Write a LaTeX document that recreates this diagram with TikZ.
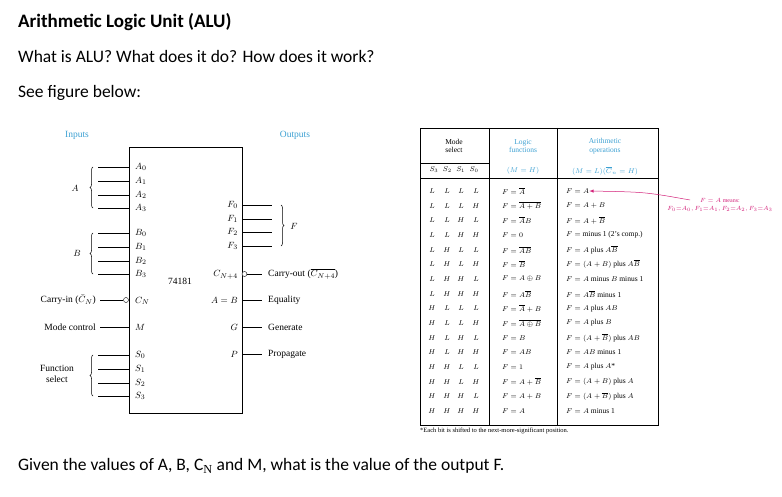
\documentclass[tikz,border=0pt]{standalone}
\usepackage{fontspec}
\setmainfont{Liberation Serif}
\newfontfamily\calfnt{Carlito}
\usetikzlibrary{decorations.pathreplacing}
\definecolor{cyanhd}{RGB}{60,160,210}
\definecolor{mag}{RGB}{210,30,120}
\begin{document}
\begin{tikzpicture}[x=1pt,y=-1pt,
  body/.style={font=\calfnt\fontsize{17.5}{19}\selectfont,anchor=west,inner sep=0},
  lab/.style={font=\fontsize{9.5}{11}\selectfont,inner sep=0},
  tab/.style={font=\fontsize{7.5}{8.5}\selectfont,inner sep=0},
  pin/.style={line width=0.6pt},
  brc/.style={decorate,decoration={brace,amplitude=3pt},line width=0.5pt},
  bub/.style={circle,draw,inner sep=0,minimum size=5pt,fill=white}]
\useasboundingbox (0,0) rectangle (782,497);
\node[body,font=\calfnt\bfseries\fontsize{19}{21}\selectfont] (t) at (18,22) {Arithmetic Logic Unit (ALU)};
\node[body] (q) at (18,56) {What is ALU? What does it do? How does it work?};
\node[body] (s) at (18,93) {See figure below:};
\node[body] (g) at (18,466) {Given the values of A, B, C$_\mathrm{N}$ and M, what is the value of the output F.};
% chip
\node[draw,line width=0.6pt,minimum width=113pt,minimum height=266pt,inner sep=0] (chip) at (185.5,280) {};
\node[lab] (num) at (180,281) {74181};
\node[lab,text=cyanhd] (inp) at (77,135) {Inputs};
\node[lab,text=cyanhd] (outp) at (295,135) {Outputs};
\foreach \n/\y in {A_0/167,A_1/181,A_2/195,A_3/208,B_0/233,B_1/247,B_2/261,B_3/274,S_0/355,S_1/369,S_2/383,S_3/396}{
  \coordinate (p\y) at (129,\y);
  \draw[pin] (98,\y) -- (p\y);
  \node[lab,anchor=west] (l\y) at (135,\y) {$\n$};
}
\draw[brc] (93,208) -- (93,167);
\node[lab] (la) at (75,188) {$A$};
\draw[brc] (93,274) -- (93,233);
\node[lab] (lb) at (77,253) {$B$};
\draw[brc] (93,396) -- (93,355);
\node[lab,align=center] (fs) at (57,374) {Function\\select};
\node[bub] (cb) at (126,300) {};
\draw[pin] (100,300) -- (cb);
\node[lab,anchor=east] (ci) at (96,300) {Carry-in ($\bar{C}_N$)};
\node[lab,anchor=west] (cn) at (135,301) {$C_N$};
\draw[pin] (100,327) -- (129,327);
\node[lab,anchor=east] (mc) at (96,327) {Mode control};
\node[lab,anchor=west] (mm) at (135,327) {$M$};
\foreach \n/\y in {F_0/205,F_1/219,F_2/232,F_3/246}{
  \draw[pin] (242,\y) -- (272,\y);
  \node[lab,anchor=east] (r\y) at (238,\y) {$\n$};
}
\draw[brc] (281,205) -- (281,246);
\node[lab] (lf) at (294,226) {$F$};
\node[bub] (ob) at (244.5,274) {};
\draw[pin] (ob) -- (262,274);
\node[lab,anchor=east] (cn4) at (238,275) {$C_{N+4}$};
\node[lab,anchor=west] (co) at (268,274) {Carry-out ($\overline{C_{N+4}}$)};
\foreach \a/\b/\y in {A=B/Equality/300,G/Generate/327,P/Propagate/354}{
  \draw[pin] (242,\y) -- (262,\y);
  \node[lab,anchor=east] (x\y) at (238,\y) {$\a$};
  \node[lab,anchor=west] (y\y) at (268,\y) {\b};
}
% table
\draw[line width=0.6pt] (420,128) rectangle (658,425);
\draw[line width=0.5pt] (489,128) -- (489,425) (557,128) -- (557,425) (420,178) -- (658,178) (420,163) -- (489,163);
\node[tab,align=center] (ms) at (454,146) {Mode\\select};
\node[tab,align=center,text=cyanhd] (lfn) at (523,146) {Logic\\functions};
\node[tab,align=center,text=cyanhd] (aop) at (605,146) {Arithmetic\\operations};
\node[tab] (ss) at (454,170) {$S_3\;\;S_2\;\;S_1\;\;S_0$};
\node[tab,text=cyanhd] (mh) at (523,171) {$(M=H)$};
\node[tab,text=cyanhd] (ml) at (605,171) {$(M=L)(\overline{C}_n=H)$};
\foreach [count=\i] \a/\b/\c/\d/\lf/\ar in {
L/L/L/L/{$F=\overline{A}$}/{$F=A$},
L/L/L/H/{$F=\overline{A+B}$}/{$F=A+B$},
L/L/H/L/{$F=\overline{A}B$}/{$F=A+\overline{B}$},
L/L/H/H/{$F=0$}/{$F=$ minus 1 (2's comp.)},
L/H/L/L/{$F=\overline{AB}$}/{$F=A$ plus $A\overline{B}$},
L/H/L/H/{$F=\overline{B}$}/{$F=(A+B)$ plus $A\overline{B}$},
L/H/H/L/{$F=A\oplus B$}/{$F=A$ minus $B$ minus 1},
L/H/H/H/{$F=A\overline{B}$}/{$F=A\overline{B}$ minus 1},
H/L/L/L/{$F=\overline{A}+B$}/{$F=A$ plus $AB$},
H/L/L/H/{$F=\overline{A\oplus B}$}/{$F=A$ plus $B$},
H/L/H/L/{$F=B$}/{$F=(A+\overline{B})$ plus $AB$},
H/L/H/H/{$F=AB$}/{$F=AB$ minus 1},
H/H/L/L/{$F=1$}/{$F=A$ plus $A$*},
H/H/L/H/{$F=A+\overline{B}$}/{$F=(A+B)$ plus $A$},
H/H/H/L/{$F=A+B$}/{$F=(A+\overline{B})$ plus $A$},
H/H/H/H/{$F=A$}/{$F=A$ minus 1}}{
  \pgfmathsetmacro{\yy}{191+(\i-1)*14.67}
  \node[tab] (ra\i) at (432,\yy) {$\a$};
  \node[tab] (rb\i) at (447,\yy) {$\b$};
  \node[tab] (rc\i) at (461,\yy) {$\c$};
  \node[tab] (rd\i) at (476,\yy) {$\d$};
  \node[tab,anchor=west] (lf\i) at (502,\yy) {\lf};
  \node[tab,anchor=west] (ar\i) at (566,\yy) {\ar};
}
\node[tab,anchor=west,font=\fontsize{6.5}{7}\selectfont] (fn) at (420,431) {*Each bit is shifted to the next-more-significant position.};
\node[tab,text=mag,align=center,font=\fontsize{6}{7.5}\selectfont] (mean) at (720,205) {$F=A$ means:\\$F_0{=}A_0,F_1{=}A_1,F_2{=}A_2,F_3{=}A_3$};
\draw[mag,line width=0.5pt,-latex] (690,200) .. controls (645,192) .. (ar1.east);
\end{tikzpicture}
\end{document}
